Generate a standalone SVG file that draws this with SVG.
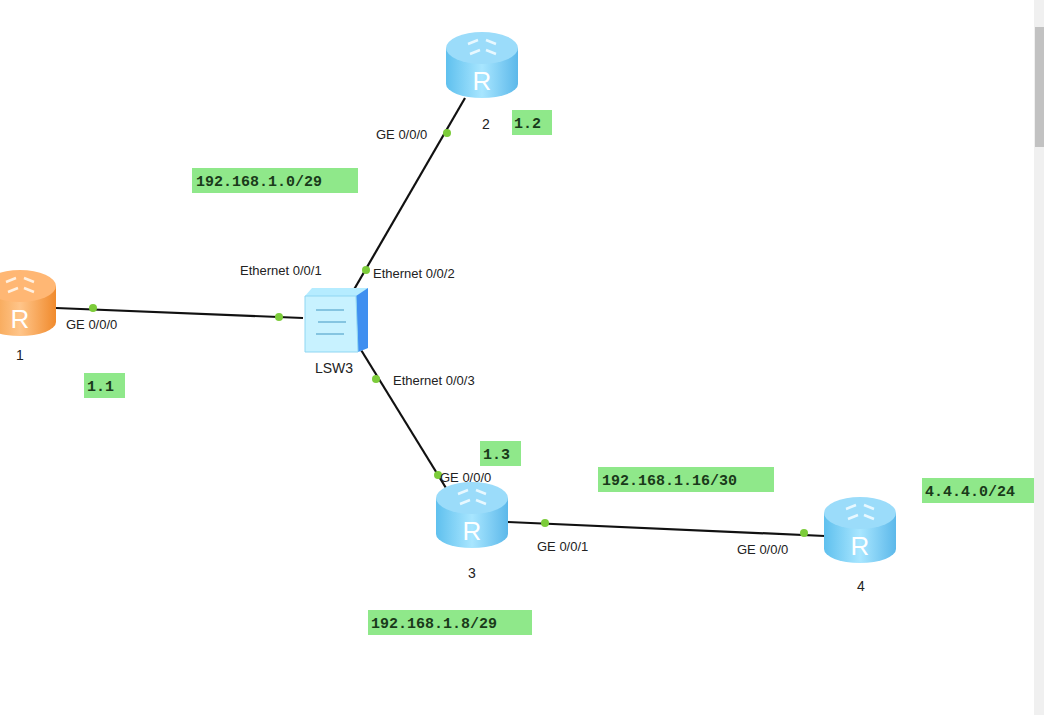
<svg xmlns="http://www.w3.org/2000/svg" width="1044" height="715" viewBox="0 0 1044 715">
<style>
.lk{stroke:#111;stroke-width:2.2;fill:none}
.dot{fill:#7ccc3a}
.pl{font-family:"Liberation Sans",Arial,sans-serif;font-size:13px;fill:#222}
.nm{font-family:"Liberation Sans",Arial,sans-serif;font-size:14px;fill:#222}
.gb{fill:#8fe88a}
.gt{font-family:"Liberation Mono","DejaVu Sans Mono",monospace;font-size:15px;fill:#1a3a1a;font-weight:bold}
.rt{font-family:"Liberation Sans",Arial,sans-serif;font-size:26px;fill:#fff}
</style>
<defs>
<linearGradient id="blu" x1="0" x2="1"><stop offset="0" stop-color="#5fc0ee"/><stop offset="0.5" stop-color="#a8e6ff"/><stop offset="1" stop-color="#5cb8ea"/></linearGradient>
<linearGradient id="org" x1="0" x2="1"><stop offset="0" stop-color="#f39a3f"/><stop offset="0.5" stop-color="#ffc58a"/><stop offset="1" stop-color="#f08a2c"/></linearGradient>
<g id="rb">
<path d="M-36,-16 V20 A36,14 0 0 0 36,20 V-16 Z" fill="url(#blu)"/>
<ellipse cx="0" cy="-16" rx="36" ry="16" fill="#9bdcfa"/>
<path d="M-14,-20 l10,-4 M4,-24 l10,4 M-12,-10 l10,-4 M4,-14 l10,4" stroke="#e8f8ff" stroke-width="2.5"/>
<text x="0" y="26" text-anchor="middle" class="rt">R</text>
</g>
<g id="ro">
<path d="M-36,-16 V20 A36,14 0 0 0 36,20 V-16 Z" fill="url(#org)"/>
<ellipse cx="0" cy="-16" rx="36" ry="16" fill="#ffb774"/>
<path d="M-14,-20 l10,-4 M4,-24 l10,4 M-12,-10 l10,-4 M4,-14 l10,4" stroke="#fff0e0" stroke-width="2.5"/>
<text x="0" y="26" text-anchor="middle" class="rt">R</text>
</g>
</defs>
<rect width="1044" height="715" fill="#fff"/>
<rect x="1034" y="0" width="10" height="715" fill="#f0f0f0"/>
<rect x="1035" y="27" width="9" height="120" fill="#c2c2c2"/>
<g id="connectors">
<line class="lk" x1="56" y1="308" x2="303" y2="318"/>
<line class="lk" x1="465" y1="98" x2="352" y2="293"/>
<line class="lk" x1="358" y1="345" x2="446" y2="488"/>
<line class="lk" x1="508" y1="522" x2="825" y2="536"/>
<circle class="dot" cx="93" cy="308" r="4"/>
<circle class="dot" cx="279" cy="317" r="4"/>
<circle class="dot" cx="447" cy="133" r="4"/>
<circle class="dot" cx="366" cy="270" r="4"/>
<circle class="dot" cx="376" cy="379" r="4"/>
<circle class="dot" cx="438" cy="475" r="4"/>
<circle class="dot" cx="545" cy="523" r="4"/>
<circle class="dot" cx="804" cy="533" r="4"/>
</g>
<g id="r1"><use href="#ro" x="20" y="302"/><text class="nm" x="20" y="360" text-anchor="middle">1</text></g>
<g id="r2"><use href="#rb" x="482" y="64"/><text class="nm" x="486" y="129" text-anchor="middle">2</text></g>
<g id="r3"><use href="#rb" x="472" y="514"/><text class="nm" x="472" y="578" text-anchor="middle">3</text></g>
<g id="r4"><use href="#rb" x="860" y="529"/><text class="nm" x="861" y="591" text-anchor="middle">4</text></g>
<g id="lsw3">
<path d="M305,296 L312,288 L368,288 L368,348 L358,352 L305,352 Z" fill="#b5ecff"/>
<path d="M356,296 L368,288 L368,348 L358,352 Z" fill="#3f8ff0"/>
<path d="M305,296 L356,296 L358,352 L305,352 Z" fill="#c8f2ff" stroke="#8fd6f2"/>
<path d="M316,310 h28 M318,322 h28 M316,334 h28" stroke="#6fb6d8" stroke-width="1.5"/>
<text class="nm" x="334" y="373" text-anchor="middle">LSW3</text>
</g>
<g id="ports">
<text class="pl" x="66" y="329">GE 0/0/0</text>
<text class="pl" x="240" y="275">Ethernet 0/0/1</text>
<text class="pl" x="373" y="278">Ethernet 0/0/2</text>
<text class="pl" x="376" y="139">GE 0/0/0</text>
<text class="pl" x="393" y="385">Ethernet 0/0/3</text>
<text class="pl" x="440" y="482">GE 0/0/0</text>
<text class="pl" x="537" y="551">GE 0/0/1</text>
<text class="pl" x="737" y="554">GE 0/0/0</text>
</g>
<g id="labels">
<rect class="gb" x="192" y="168" width="166" height="25"/><text class="gt" x="196" y="186">192.168.1.0/29</text>
<rect class="gb" x="512" y="110" width="40" height="25"/><text class="gt" x="514" y="128">1.2</text>
<rect class="gb" x="84" y="373" width="41" height="25"/><text class="gt" x="87" y="391">1.1</text>
<rect class="gb" x="480" y="441" width="41" height="25"/><text class="gt" x="483" y="459">1.3</text>
<rect class="gb" x="598" y="467" width="176" height="25"/><text class="gt" x="602" y="485">192.168.1.16/30</text>
<rect class="gb" x="368" y="610" width="164" height="25"/><text class="gt" x="371" y="628">192.168.1.8/29</text>
<rect class="gb" x="922" y="478" width="112" height="25"/><text class="gt" x="925" y="496">4.4.4.0/24</text>
</g>
</svg>
